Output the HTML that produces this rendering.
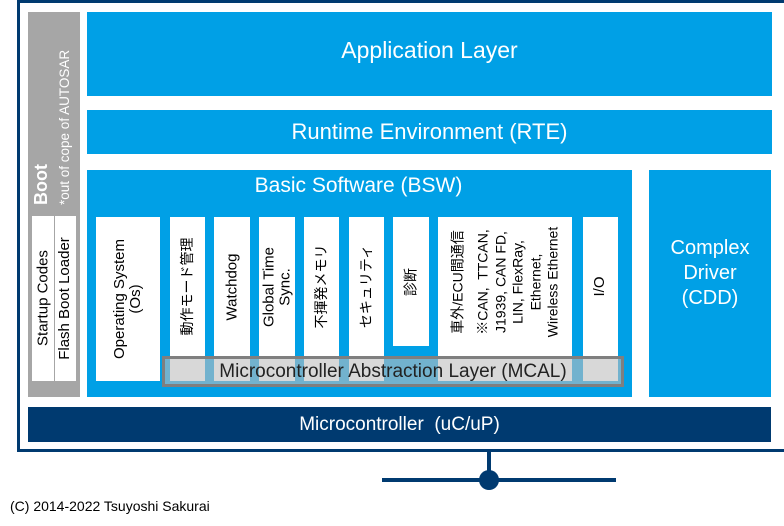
<!DOCTYPE html>
<html><head><meta charset="utf-8"><style>
body{margin:0;width:784px;height:526px;background:#fff;position:relative;overflow:hidden;font-family:"Liberation Sans","Noto Sans CJK JP",sans-serif}
div{position:absolute;box-sizing:border-box}
.b{background:#00a0e6;color:#fff;display:flex;align-items:center;justify-content:center}
.w{background:#fff}
.r{display:flex;align-items:center;justify-content:center;text-align:center;transform:rotate(-90deg);white-space:nowrap;line-height:1.1;color:#000;font-size:14px}
</style></head><body>
<div style="left:17px;top:0;width:767px;height:452px;border:3px solid #003a70;border-right:none"></div>
<div style="left:28px;top:12px;width:52px;height:385px;background:#a6a6a6"></div>
<div class="r" style="left:-58px;top:100px;width:200px;height:26px;color:#fff;font-size:18px;font-weight:bold;justify-content:flex-start;padding-left:8px">Boot</div>
<div class="r" style="left:-35px;top:100px;width:200px;height:22px;color:#fff;font-size:13.5px;justify-content:flex-start;padding-left:6px">*out of cope of AUTOSAR</div>
<div class="w" style="left:32px;top:216px;width:22px;height:165px"></div>
<div class="w" style="left:55px;top:216px;width:21px;height:165px"></div>
<div class="r" style="left:-39px;top:287px;width:165px;height:22px;font-size:15px">Startup Codes</div>
<div class="r" style="left:-17px;top:288px;width:165px;height:21px;font-size:15px">Flash Boot Loader</div>

<div class="b" style="left:87px;top:12px;width:685px;height:84px;font-size:23px;padding-bottom:8px">Application Layer</div>
<div class="b" style="left:87px;top:110px;width:685px;height:44px;font-size:22px">Runtime Environment (RTE)</div>
<div class="b" style="left:87px;top:170px;width:545px;height:227px;align-items:flex-start;padding-top:4px;font-size:21px;padding-right:2px">Basic Software (BSW)</div>
<div class="b" style="left:649px;top:170px;width:122px;height:227px;font-size:20px;text-align:center;line-height:1.25;padding-bottom:20px">Complex<br>Driver<br>(CDD)</div>
<div style="left:28px;top:407px;width:743px;height:35px;background:#003a70;color:#fff;font-size:19px;display:flex;align-items:center;justify-content:center">Microcontroller&nbsp;&nbsp;(uC/uP)</div>

<div class="w" style="left:96px;top:217px;width:64px;height:164px"></div>
<div class="r" style="left:46px;top:267px;width:164px;height:64px;font-size:15px">Operating System<br>(Os)</div>
<div class="w" style="left:170px;top:217px;width:35px;height:164px"></div>
<div class="r" style="left:118px;top:269px;width:139px;height:35px">動作モード管理</div>
<div class="w" style="left:214px;top:217px;width:36px;height:164px"></div>
<div class="r" style="left:163px;top:269px;width:139px;height:36px;font-size:15px">Watchdog</div>
<div class="w" style="left:259px;top:217px;width:36px;height:164px"></div>
<div class="r" style="left:208px;top:269px;width:139px;height:36px;font-size:15px">Global Time<br>Sync.</div>
<div class="w" style="left:304px;top:217px;width:35px;height:164px"></div>
<div class="r" style="left:252px;top:269px;width:139px;height:35px">不揮発メモリ</div>
<div class="w" style="left:349px;top:217px;width:35px;height:164px"></div>
<div class="r" style="left:297px;top:269px;width:139px;height:35px">セキュリティ</div>
<div class="w" style="left:393px;top:217px;width:36px;height:129px"></div>
<div class="r" style="left:347px;top:264px;width:129px;height:36px">診断</div>
<div class="w" style="left:438px;top:217px;width:134px;height:164px"></div>
<div class="r" style="left:436px;top:215px;width:139px;height:134px;font-size:14px;line-height:1.25;flex-direction:column;justify-content:center">
<div style="position:static;font-size:14px;margin-bottom:8px">車外/ECU間通信</div>
<div style="position:static">※CAN,&nbsp; TTCAN,<br>J1939, CAN FD,<br>LIN, FlexRay,<br>Ethernet,<br>Wireless Ethernet</div></div>
<div class="w" style="left:583px;top:217px;width:35px;height:164px"></div>
<div class="r" style="left:531px;top:269px;width:139px;height:35px;font-size:15px">I/O</div>

<div style="left:162px;top:356px;width:462px;height:31px;border:3px solid #7f7f7f;background:rgba(190,190,190,0.6);font-size:19px;color:#222;display:flex;align-items:center;justify-content:center">Microcontroller Abstraction Layer (MCAL)</div>

<div style="left:382px;top:478px;width:234px;height:4px;background:#003a70"></div>
<div style="left:487px;top:451px;width:4px;height:29px;background:#003a70"></div>
<div style="left:479px;top:470px;width:20px;height:20px;border-radius:50%;background:#003a70"></div>
<div style="left:10px;top:498px;font-size:14px;color:#000">(C) 2014-2022 Tsuyoshi Sakurai</div>
</body></html>
